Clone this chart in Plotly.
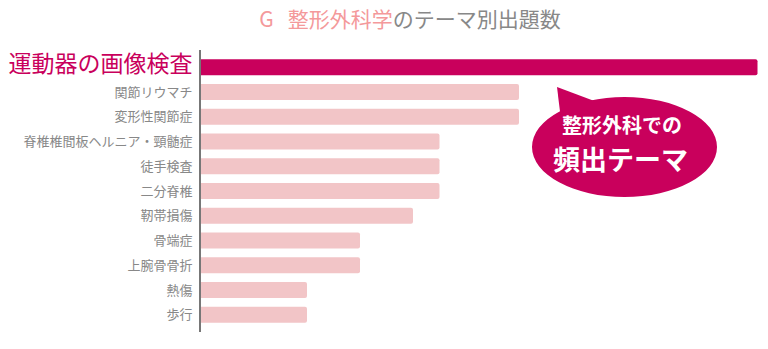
import plotly.graph_objects as go

categories = ["運動器の画像検査", "関節リウマチ", "変形性関節症", "脊椎椎間板ヘルニア・頸髄症",
              "徒手検査", "二分脊椎", "靭帯損傷", "骨端症", "上腕骨骨折", "熱傷", "歩行"]
values = [21, 12, 12, 9, 9, 9, 8, 6, 6, 4, 4]
highlight = "運動器の画像検査"

MAG = "#c9005c"
PINK = "#f2c5c7"
GRAY = "#888888"
FONT = "Noto Sans CJK JP"

colors = [MAG if c == highlight else PINK for c in categories]
ticktext = [
    f"<span style='font-size:23px;color:{MAG}'>{c}</span>" if c == highlight else c
    for c in categories
]

W, H = 768, 349
L, R, T, B = 201, 0, 50, 17
pw, ph = W - L - R, H - T - B

def px(x):
    return (x - L) / pw

def py(y):
    return (H - B - y) / ph

fig = go.Figure(go.Bar(
    y=categories, x=values, orientation="h",
    marker=dict(color=colors, line=dict(width=0), cornerradius=2),
    width=0.65, hoverinfo="skip",
))

fig.update_layout(
    width=W, height=H,
    margin=dict(l=L, r=R, t=T, b=B),
    paper_bgcolor="white", plot_bgcolor="white",
    font=dict(family=FONT, color=GRAY, size=13),
    showlegend=False,
    title=dict(
        text="<span style='color:#f4999b'>G\u00a0\u00a0\u00a0整形外科学</span><span style='color:#888888'>のテーマ別出題数</span>",
        x=410 / W, xanchor="center", xref="container",
        y=1 - 20 / H, yanchor="middle", yref="container",
        font=dict(size=21, family=FONT),
    ),
    xaxis=dict(range=[0, (W - L - R) / 26.5], visible=False, fixedrange=True),
    yaxis=dict(
        type="category", categoryorder="array", categoryarray=categories,
        tickmode="array", tickvals=categories, ticktext=ticktext,
        range=[10.7, -0.7], showline=True, linecolor="#777777", linewidth=2,
        showgrid=False, zeroline=False, ticks="", ticklabelstandoff=4,
        tickfont=dict(size=13, color=GRAY, family=FONT),
    ),
)

# speech bubble
cx, cy, rx, ry = 624.5, 147, 92.5, 50
fig.add_shape(type="circle", xref="paper", yref="paper",
              x0=px(cx - rx), x1=px(cx + rx), y0=py(cy + ry), y1=py(cy - ry),
              fillcolor=MAG, line=dict(width=0), layer="above")
tail = [(557, 87), (561, 120), (597, 102)]
path = "M " + " L ".join(f"{px(x)},{py(y)}" for x, y in tail) + " Z"
fig.add_shape(type="path", xref="paper", yref="paper", path=path,
              fillcolor=MAG, line=dict(width=0), layer="above")
fig.add_annotation(xref="paper", yref="paper", x=px(622), y=py(124),
                   text="<b>整形外科での</b>", showarrow=False,
                   font=dict(size=20, color="white", family=FONT),
                   xanchor="center", yanchor="middle")
fig.add_annotation(xref="paper", yref="paper", x=px(620), y=py(158),
                   text="<b>頻出テーマ</b>", showarrow=False,
                   font=dict(size=27, color="white", family=FONT),
                   xanchor="center", yanchor="middle")

fig.write_html("out.html", config={"displayModeBar": False})
